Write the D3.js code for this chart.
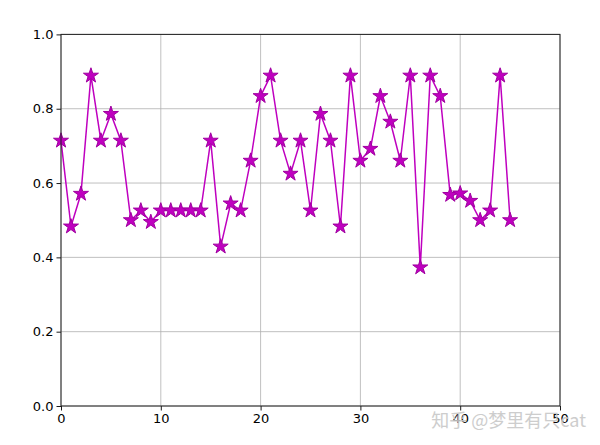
<!DOCTYPE html>
<html><head><meta charset="utf-8">
<script src="https://cdn.jsdelivr.net/npm/d3@7"></script>
<style>body{margin:0;background:#fff}svg{display:block}</style>
</head><body>
<svg id="c" width="600" height="445"></svg>
<script>
const xValues = d3.range(0, 46);
const yValues = [0.714,0.483,0.571,0.889,0.714,0.786,0.714,0.500,0.526,0.495,
  0.526,0.526,0.526,0.526,0.526,0.714,0.429,0.545,0.526,0.660,
  0.834,0.889,0.714,0.625,0.714,0.526,0.786,0.714,0.483,0.889,
  0.660,0.692,0.834,0.765,0.660,0.889,0.373,0.889,0.834,0.568,
  0.572,0.552,0.500,0.526,0.889,0.500];
const xTicks = [0,10,20,30,40,50];
const yTicks = [0.0,0.2,0.4,0.6,0.8,1.0];
const watermark = "知乎 @梦里有只cat";

const svg = d3.select("#c");
const L=61,R=560,T=34.4,B=406;
const x = d3.scaleLinear().domain([0,50]).range([L,R]);
const y = d3.scaleLinear().domain([0,1]).range([B,T]);
const font = "DejaVu Sans, sans-serif";

// grid
svg.append("g").selectAll("line").data(xTicks).join("line")
  .attr("x1",d=>x(d)).attr("x2",d=>x(d)).attr("y1",T).attr("y2",B)
  .attr("stroke","#b0b0b0").attr("stroke-width",0.8);
svg.append("g").selectAll("line").data(yTicks).join("line")
  .attr("x1",L).attr("x2",R).attr("y1",d=>y(d)).attr("y2",d=>y(d))
  .attr("stroke","#b0b0b0").attr("stroke-width",0.8);

// axes
const xa = svg.append("g").attr("transform",`translate(0,${B})`)
  .call(d3.axisBottom(x).tickValues(xTicks).tickFormat(d3.format("d")).tickSizeOuter(0).tickSize(4.5).tickPadding(3));
const ya = svg.append("g").attr("transform",`translate(${L},0)`)
  .call(d3.axisLeft(y).tickValues(yTicks).tickFormat(d3.format(".1f")).tickSizeOuter(0).tickSize(4.5).tickPadding(3));
[xa,ya].forEach(a=>{
  a.select(".domain").remove();
  a.selectAll("text").attr("font-family",font).attr("font-size",13).attr("fill","#000");
  a.selectAll("line").attr("stroke","#000").attr("stroke-width",0.9);
});
// clip
svg.append("defs").append("clipPath").attr("id","clip").append("rect")
  .attr("x",L-10).attr("y",T).attr("width",R-L+20).attr("height",B-T);

const data = xValues.map((d,i)=>[d,yValues[i]]);
const g = svg.append("g").attr("clip-path","url(#clip)");
g.append("path").datum(data)
  .attr("d",d3.line().x(d=>x(d[0])).y(d=>y(d[1])))
  .attr("fill","none").attr("stroke","#bf00bf").attr("stroke-width",1.5);
g.selectAll("path.m").data(data).join("path").attr("class","m")
  .attr("transform",d=>`translate(${x(d[0])},${y(d[1])})`)
  .attr("d",d3.symbol(d3.symbolStar,70))
  .attr("fill","#bf00bf").attr("stroke","#a000a0").attr("stroke-width",1);

// spines
svg.append("rect").attr("x",L).attr("y",T).attr("width",R-L).attr("height",B-T)
  .attr("fill","none").attr("stroke","#222").attr("stroke-width",1);

// watermark
svg.append("text").attr("x",586).attr("y",427).attr("text-anchor","end")
  .attr("font-family","Noto Sans CJK SC, sans-serif").attr("font-size",18)
  .attr("fill","#c8c8c8").attr("opacity",0.9).text(watermark);
</script>
</body></html>
